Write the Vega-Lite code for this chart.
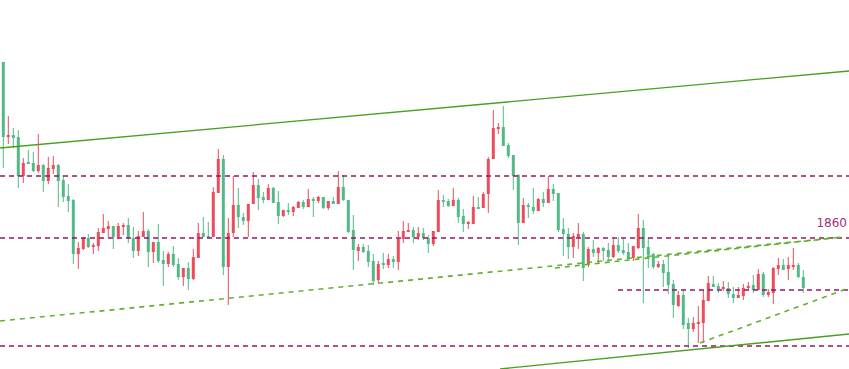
{
  "$schema": "https://vega.github.io/schema/vega-lite/v6.json",
  "width": 849,
  "height": 369,
  "padding": 0,
  "autosize": {"type": "none"},
  "background": "#ffffff",
  "config": {"view": {"stroke": null}, "scale": {"continuousPadding": 0}},
  "datasets": {
    "candles": [
      {"i":0,"o":1948,"h":1948,"l":1895,"c":1910.5},
      {"i":1,"o":1910.5,"h":1921,"l":1907,"c":1911.5},
      {"i":2,"o":1911.5,"h":1915,"l":1905,"c":1910},
      {"i":3,"o":1910.5,"h":1914,"l":1885,"c":1891},
      {"i":4,"o":1891,"h":1900,"l":1887.5,"c":1897.5},
      {"i":5,"o":1898,"h":1904,"l":1897,"c":1897},
      {"i":6,"o":1897.5,"h":1903,"l":1893,"c":1893.5},
      {"i":7,"o":1893.5,"h":1912,"l":1892.5,"c":1896.5},
      {"i":8,"o":1896.5,"h":1897,"l":1883,"c":1888.5},
      {"i":9,"o":1888.5,"h":1900.5,"l":1887,"c":1895},
      {"i":10,"o":1894.5,"h":1901,"l":1892,"c":1896.5},
      {"i":11,"o":1896.5,"h":1897,"l":1875.5,"c":1888.5},
      {"i":12,"o":1889,"h":1891.5,"l":1878,"c":1880.5},
      {"i":13,"o":1881,"h":1887,"l":1873,"c":1878.5},
      {"i":14,"o":1879,"h":1879.5,"l":1847,"c":1852},
      {"i":15,"o":1852,"h":1858,"l":1844.5,"c":1855},
      {"i":16,"o":1854.5,"h":1860.5,"l":1854,"c":1860},
      {"i":17,"o":1860,"h":1862,"l":1855,"c":1855.5},
      {"i":18,"o":1855.5,"h":1857.5,"l":1852,"c":1856.5},
      {"i":19,"o":1856,"h":1865,"l":1853.5,"c":1863},
      {"i":20,"o":1862.5,"h":1872,"l":1862.5,"c":1865},
      {"i":21,"o":1864.5,"h":1868.5,"l":1860.5,"c":1866},
      {"i":22,"o":1866,"h":1866,"l":1854.5,"c":1860.5},
      {"i":23,"o":1860.5,"h":1867.5,"l":1859.5,"c":1866},
      {"i":24,"o":1865.5,"h":1867.5,"l":1861.5,"c":1866.5},
      {"i":25,"o":1866.5,"h":1870,"l":1857.5,"c":1860},
      {"i":26,"o":1860,"h":1865.5,"l":1850,"c":1853.5},
      {"i":27,"o":1853.5,"h":1863.5,"l":1851,"c":1861},
      {"i":28,"o":1860.5,"h":1873,"l":1860.5,"c":1863.5},
      {"i":29,"o":1863.5,"h":1864.5,"l":1845.5,"c":1853},
      {"i":30,"o":1853,"h":1858,"l":1847.5,"c":1858},
      {"i":31,"o":1858,"h":1867,"l":1847.5,"c":1848.5},
      {"i":32,"o":1849,"h":1853.5,"l":1836,"c":1847},
      {"i":33,"o":1847,"h":1853,"l":1845.5,"c":1852},
      {"i":34,"o":1852,"h":1856,"l":1845.5,"c":1846.5},
      {"i":35,"o":1847,"h":1850,"l":1839,"c":1840.5},
      {"i":36,"o":1840.5,"h":1845,"l":1836,"c":1845},
      {"i":37,"o":1845,"h":1848,"l":1834,"c":1839.5},
      {"i":38,"o":1839.5,"h":1854.5,"l":1839,"c":1850.5},
      {"i":39,"o":1850,"h":1867.5,"l":1850,"c":1862.5},
      {"i":40,"o":1862.5,"h":1870.5,"l":1860.5,"c":1860.5},
      {"i":41,"o":1861,"h":1868,"l":1860,"c":1860},
      {"i":42,"o":1860.5,"h":1885.5,"l":1860.5,"c":1883},
      {"i":43,"o":1882.5,"h":1904.5,"l":1882.5,"c":1899.5},
      {"i":44,"o":1899.5,"h":1901.5,"l":1841.5,"c":1845.5},
      {"i":45,"o":1845.5,"h":1870,"l":1826.5,"c":1862.5},
      {"i":46,"o":1862.5,"h":1891,"l":1860.5,"c":1876.5},
      {"i":47,"o":1876.5,"h":1885,"l":1865,"c":1870.5},
      {"i":48,"o":1870.5,"h":1872.5,"l":1866.5,"c":1868.5},
      {"i":49,"o":1868.5,"h":1877,"l":1860.5,"c":1877},
      {"i":50,"o":1877,"h":1893,"l":1877,"c":1886.5},
      {"i":51,"o":1886.5,"h":1889.5,"l":1874,"c":1880},
      {"i":52,"o":1880.5,"h":1883,"l":1877.5,"c":1879},
      {"i":53,"o":1879,"h":1887,"l":1879,"c":1885},
      {"i":54,"o":1885,"h":1885.5,"l":1877.5,"c":1877.5},
      {"i":55,"o":1878,"h":1883.5,"l":1867,"c":1871},
      {"i":56,"o":1871,"h":1874,"l":1870.5,"c":1874},
      {"i":57,"o":1874,"h":1877.5,"l":1871.5,"c":1873},
      {"i":58,"o":1873,"h":1876,"l":1871,"c":1875.5},
      {"i":59,"o":1875,"h":1878.5,"l":1875,"c":1878},
      {"i":60,"o":1878,"h":1879,"l":1874.5,"c":1875.5},
      {"i":61,"o":1875.5,"h":1884.5,"l":1875.5,"c":1879.5},
      {"i":62,"o":1879.5,"h":1880.5,"l":1870.5,"c":1878.5},
      {"i":63,"o":1878.5,"h":1881,"l":1877.5,"c":1880.5},
      {"i":64,"o":1880.5,"h":1880.5,"l":1874.5,"c":1875},
      {"i":65,"o":1875,"h":1878.5,"l":1874,"c":1878.5},
      {"i":66,"o":1878.5,"h":1880.5,"l":1877,"c":1877},
      {"i":67,"o":1877,"h":1893.5,"l":1877,"c":1885.5},
      {"i":68,"o":1885.5,"h":1891.5,"l":1878.5,"c":1879},
      {"i":69,"o":1879,"h":1879,"l":1862.5,"c":1863},
      {"i":70,"o":1864,"h":1871.5,"l":1844,"c":1854},
      {"i":71,"o":1853.5,"h":1857,"l":1848.5,"c":1855.5},
      {"i":72,"o":1855.5,"h":1857,"l":1852.5,"c":1853},
      {"i":73,"o":1853.5,"h":1856.5,"l":1845.5,"c":1848},
      {"i":74,"o":1848.5,"h":1852,"l":1836.5,"c":1838.5},
      {"i":75,"o":1839,"h":1848.5,"l":1837.5,"c":1847},
      {"i":76,"o":1847.5,"h":1852.5,"l":1844.5,"c":1846.5},
      {"i":77,"o":1846.5,"h":1852,"l":1845,"c":1849.5},
      {"i":78,"o":1849.5,"h":1851,"l":1845,"c":1848},
      {"i":79,"o":1848,"h":1863.5,"l":1844,"c":1859.5},
      {"i":80,"o":1859.5,"h":1868.5,"l":1857.5,"c":1863.5},
      {"i":81,"o":1863,"h":1867.5,"l":1863,"c":1864},
      {"i":82,"o":1864,"h":1865.5,"l":1857.5,"c":1860.5},
      {"i":83,"o":1860.5,"h":1865.5,"l":1859,"c":1862.5},
      {"i":84,"o":1862.5,"h":1865,"l":1859,"c":1860},
      {"i":85,"o":1860,"h":1861.5,"l":1852.5,"c":1857},
      {"i":86,"o":1857,"h":1863.5,"l":1856,"c":1863.5},
      {"i":87,"o":1863,"h":1884,"l":1863,"c":1879},
      {"i":88,"o":1879,"h":1881.5,"l":1875.5,"c":1878},
      {"i":89,"o":1878.5,"h":1879.5,"l":1875.5,"c":1876},
      {"i":90,"o":1876,"h":1885,"l":1876,"c":1879},
      {"i":91,"o":1879,"h":1880,"l":1867.5,"c":1870.5},
      {"i":92,"o":1871,"h":1874.5,"l":1863,"c":1867},
      {"i":93,"o":1867,"h":1868.5,"l":1864.5,"c":1868},
      {"i":94,"o":1867,"h":1881,"l":1867,"c":1875.5},
      {"i":95,"o":1875.5,"h":1880.5,"l":1874.5,"c":1874.5},
      {"i":96,"o":1875,"h":1883,"l":1875,"c":1882},
      {"i":97,"o":1882,"h":1900.5,"l":1872.5,"c":1899.5},
      {"i":98,"o":1899.5,"h":1924,"l":1899.5,"c":1915},
      {"i":99,"o":1914.5,"h":1917.5,"l":1912,"c":1915.5},
      {"i":100,"o":1915.5,"h":1926,"l":1906,"c":1906},
      {"i":101,"o":1906.5,"h":1907.5,"l":1900,"c":1901},
      {"i":102,"o":1901.5,"h":1901.5,"l":1884,"c":1891},
      {"i":103,"o":1891.5,"h":1892,"l":1856.5,"c":1867.5},
      {"i":104,"o":1867.5,"h":1880,"l":1867.5,"c":1876.5},
      {"i":105,"o":1876.5,"h":1877.5,"l":1870,"c":1875.5},
      {"i":106,"o":1875.5,"h":1885,"l":1872,"c":1873.5},
      {"i":107,"o":1873.5,"h":1880,"l":1873.5,"c":1879.5},
      {"i":108,"o":1879.5,"h":1883,"l":1875.5,"c":1877.5},
      {"i":109,"o":1877.5,"h":1891,"l":1877.5,"c":1884.5},
      {"i":110,"o":1884.5,"h":1887,"l":1878.5,"c":1882},
      {"i":111,"o":1882.5,"h":1882.5,"l":1863,"c":1864},
      {"i":112,"o":1864.5,"h":1870,"l":1851,"c":1862},
      {"i":113,"o":1862,"h":1865,"l":1849.5,"c":1855.5},
      {"i":114,"o":1855.5,"h":1862.5,"l":1850,"c":1861},
      {"i":115,"o":1860.5,"h":1867.5,"l":1854.5,"c":1862},
      {"i":116,"o":1862,"h":1863,"l":1838.5,"c":1845},
      {"i":117,"o":1846.5,"h":1855.5,"l":1845.5,"c":1854.5},
      {"i":118,"o":1854.5,"h":1859,"l":1850.5,"c":1852.5},
      {"i":119,"o":1852.5,"h":1855.5,"l":1847.5,"c":1855},
      {"i":120,"o":1855,"h":1855.5,"l":1848.5,"c":1853.5},
      {"i":121,"o":1854,"h":1857.5,"l":1849,"c":1850.5},
      {"i":122,"o":1850.5,"h":1859.5,"l":1850,"c":1856.5},
      {"i":123,"o":1856.5,"h":1860.5,"l":1852.5,"c":1853.5},
      {"i":124,"o":1854,"h":1860,"l":1851.5,"c":1852.5},
      {"i":125,"o":1853,"h":1857.5,"l":1849.5,"c":1850},
      {"i":126,"o":1850,"h":1856,"l":1848.5,"c":1856},
      {"i":127,"o":1855,"h":1872,"l":1854.5,"c":1865},
      {"i":128,"o":1865,"h":1869,"l":1827.5,"c":1855},
      {"i":129,"o":1855.5,"h":1860,"l":1845,"c":1851.5},
      {"i":130,"o":1852,"h":1852.5,"l":1844.5,"c":1845.5},
      {"i":131,"o":1845.5,"h":1848.5,"l":1845,"c":1847},
      {"i":132,"o":1847,"h":1849,"l":1835.5,"c":1842.5},
      {"i":133,"o":1843,"h":1851.5,"l":1832,"c":1836.5},
      {"i":134,"o":1837,"h":1839,"l":1820,"c":1826.5},
      {"i":135,"o":1826,"h":1833.5,"l":1825.5,"c":1831.5},
      {"i":136,"o":1831.5,"h":1834,"l":1814.5,"c":1816.5},
      {"i":137,"o":1817.5,"h":1820,"l":1805,"c":1814.5},
      {"i":138,"o":1814.5,"h":1820.5,"l":1813,"c":1817.5},
      {"i":139,"o":1817,"h":1826,"l":1807.5,"c":1818},
      {"i":140,"o":1817.5,"h":1834,"l":1807.5,"c":1829},
      {"i":141,"o":1828.5,"h":1841,"l":1828.5,"c":1837.5},
      {"i":142,"o":1837,"h":1841,"l":1835.5,"c":1835.5},
      {"i":143,"o":1836,"h":1837.5,"l":1832.5,"c":1834.5},
      {"i":144,"o":1834.5,"h":1838.5,"l":1833.5,"c":1835.5},
      {"i":145,"o":1835,"h":1838,"l":1830,"c":1832},
      {"i":146,"o":1832,"h":1835.5,"l":1827.5,"c":1830},
      {"i":147,"o":1830,"h":1835.5,"l":1830,"c":1831.5},
      {"i":148,"o":1831,"h":1837,"l":1829,"c":1835},
      {"i":149,"o":1835,"h":1838,"l":1834,"c":1836},
      {"i":150,"o":1836.5,"h":1841.5,"l":1832.5,"c":1834},
      {"i":151,"o":1834,"h":1844.5,"l":1834,"c":1842},
      {"i":152,"o":1842,"h":1843,"l":1830.5,"c":1831.5},
      {"i":153,"o":1831.5,"h":1834.5,"l":1830.5,"c":1833},
      {"i":154,"o":1832.5,"h":1845.5,"l":1827,"c":1845},
      {"i":155,"o":1844.5,"h":1850,"l":1841.5,"c":1846.5},
      {"i":156,"o":1846.5,"h":1849.5,"l":1844,"c":1844},
      {"i":157,"o":1844.5,"h":1850.5,"l":1839,"c":1846.5},
      {"i":158,"o":1845.5,"h":1855,"l":1844,"c":1846.5},
      {"i":159,"o":1846.5,"h":1847.5,"l":1840,"c":1840.5},
      {"i":160,"o":1840.5,"h":1844,"l":1832.5,"c":1835}
    ],
    "lines": [
      {"kind":"mag","x1":-0.66,"y1":1891,"x2":169.14,"y2":1891},
      {"kind":"mag","x1":-0.66,"y1":1860,"x2":169.14,"y2":1860},
      {"kind":"mag","x1":122.94,"y1":1834,"x2":169.14,"y2":1834},
      {"kind":"mag","x1":-0.66,"y1":1806,"x2":169.14,"y2":1806},
      {"kind":"solid","x1":-0.66,"y1":1905,"x2":169.14,"y2":1943.5},
      {"kind":"solid","x1":99.34,"y1":1794.5,"x2":169.14,"y2":1812},
      {"kind":"dash","x1":-0.66,"y1":1818.5,"x2":167.94,"y2":1860.5},
      {"kind":"dash","x1":110.34,"y1":1845,"x2":167.94,"y2":1860.5},
      {"kind":"dash","x1":139.34,"y1":1807.5,"x2":169.14,"y2":1835}
    ],
    "labels": [
      {"x":168.74,"y":1865.5,"text":"1860"}
    ]
  },
  "layer": [
    {
      "data": {"name": "candles"},
      "mark": {"type": "rule", "strokeWidth": 1},
      "encoding": {
        "x": {"field": "i", "type": "quantitative",
              "scale": {"domain": [-0.66, 169.14], "nice": false, "zero": false, "padding": 0},
              "axis": {"values": [1.8, 19.8, 37.8, 55.8, 73.8, 91.8, 109.8, 127.8, 145.8, 163.8],
                       "labels": false, "ticks": false, "domain": false, "title": null,
                       "grid": true, "gridColor": "#f0f3fa", "gridWidth": 1}},
        "y": {"field": "l", "type": "quantitative",
              "scale": {"domain": [1794.5, 1979], "nice": false, "zero": false, "padding": 0},
              "axis": {"values": [1968, 1943, 1918, 1893, 1868, 1843, 1818],
                       "labels": false, "ticks": false, "domain": false, "title": null,
                       "grid": true, "gridColor": "#f0f3fa", "gridWidth": 1}},
        "y2": {"field": "h"},
        "color": {"condition": {"test": "datum.c > datum.o", "value": "#eb4d5c"}, "value": "#53b987"}
      }
    },
    {
      "data": {"name": "candles"},
      "mark": {"type": "bar", "width": 3},
      "encoding": {
        "x": {"field": "i", "type": "quantitative", "scale": {"domain": [-0.66, 169.14], "nice": false, "zero": false, "padding": 0}, "axis": null},
        "y": {"field": "o", "type": "quantitative", "scale": {"domain": [1794.5, 1979], "nice": false, "zero": false, "padding": 0}, "axis": null},
        "y2": {"field": "c"},
        "color": {"condition": {"test": "datum.c > datum.o", "value": "#eb4d5c"}, "value": "#53b987"}
      }
    },
    {
      "data": {"name": "lines"},
      "transform": [{"filter": "datum.kind === 'mag'"}],
      "mark": {"type": "rule", "color": "#9a1468", "strokeWidth": 1.6, "strokeDash": [5, 4]},
      "encoding": {
        "x": {"field": "x1", "type": "quantitative", "scale": {"domain": [-0.66, 169.14], "nice": false, "zero": false, "padding": 0}, "axis": null},
        "x2": {"field": "x2"},
        "y": {"field": "y1", "type": "quantitative", "scale": {"domain": [1794.5, 1979], "nice": false, "zero": false, "padding": 0}, "axis": null},
        "y2": {"field": "y2"}
      }
    },
    {
      "data": {"name": "lines"},
      "transform": [{"filter": "datum.kind === 'solid'"}],
      "mark": {"type": "rule", "color": "#46a020", "strokeWidth": 1.3},
      "encoding": {
        "x": {"field": "x1", "type": "quantitative", "scale": {"domain": [-0.66, 169.14], "nice": false, "zero": false, "padding": 0}, "axis": null},
        "x2": {"field": "x2"},
        "y": {"field": "y1", "type": "quantitative", "scale": {"domain": [1794.5, 1979], "nice": false, "zero": false, "padding": 0}, "axis": null},
        "y2": {"field": "y2"}
      }
    },
    {
      "data": {"name": "lines"},
      "transform": [{"filter": "datum.kind === 'dash'"}],
      "mark": {"type": "rule", "color": "#62b033", "strokeWidth": 1.6, "strokeDash": [5, 5]},
      "encoding": {
        "x": {"field": "x1", "type": "quantitative", "scale": {"domain": [-0.66, 169.14], "nice": false, "zero": false, "padding": 0}, "axis": null},
        "x2": {"field": "x2"},
        "y": {"field": "y1", "type": "quantitative", "scale": {"domain": [1794.5, 1979], "nice": false, "zero": false, "padding": 0}, "axis": null},
        "y2": {"field": "y2"}
      }
    },
    {
      "data": {"name": "labels"},
      "mark": {"type": "text", "align": "right", "baseline": "alphabetic", "font": "DejaVu Sans", "fontSize": 12, "color": "#a0307a"},
      "encoding": {
        "x": {"field": "x", "type": "quantitative", "scale": {"domain": [-0.66, 169.14], "nice": false, "zero": false, "padding": 0}, "axis": null},
        "y": {"field": "y", "type": "quantitative", "scale": {"domain": [1794.5, 1979], "nice": false, "zero": false, "padding": 0}, "axis": null},
        "text": {"field": "text"}
      }
    }
  ]
}
